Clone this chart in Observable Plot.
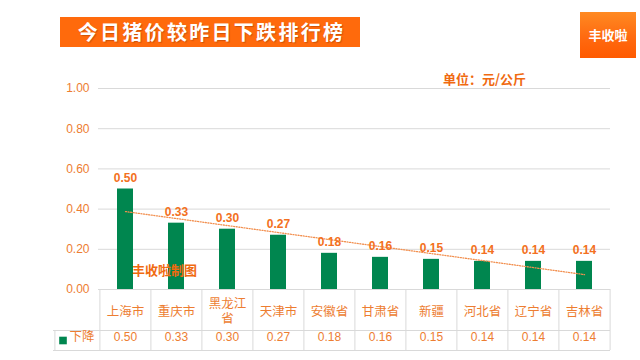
<!DOCTYPE html>
<html><head><meta charset="utf-8">
<script src="https://cdn.jsdelivr.net/npm/d3@7"></script>
<script src="https://cdn.jsdelivr.net/npm/@observablehq/plot@0.6"></script>
<style>
body{margin:0;background:#fff}
#wrap{position:relative;width:640px;height:360px;overflow:hidden;font-family:"Liberation Sans","Noto Sans CJK SC",sans-serif}
#chart{position:absolute;left:0;top:0}
.title{position:absolute;left:60px;top:17px;width:300px;height:30px;background:#FF6A0C;color:#fff;font:bold 20px "Noto Sans CJK SC";line-height:30px;text-align:center;letter-spacing:2.3px;text-indent:3px;text-shadow:1px 1px 1px rgba(120,40,0,0.35);white-space:nowrap}
.brand{position:absolute;left:580px;top:12px;width:56px;height:46px;background:linear-gradient(180deg,#FF8A22 0%,#FF6A10 55%,#FF5A00 100%);color:#fff;font:bold 13px "Noto Sans CJK SC";line-height:46px;text-align:center;white-space:nowrap}
.unit{position:absolute;left:443px;top:70px;color:#F06A10;font:bold 13px "Noto Sans CJK SC";line-height:18px;white-space:nowrap}
.mark{position:absolute;left:132px;top:261px;color:#F06A10;font:bold 13px "Noto Sans CJK SC";line-height:18px;white-space:nowrap}
</style></head>
<body>
<div id="wrap">
  <div id="chart"></div>
  <div class="title" id="title"></div>
  <div class="brand" id="brand"></div>
  <div class="unit" id="unit"></div>
  <div class="mark" id="mark"></div>
</div>
<script>
const titleText = "今日猪价较昨日下跌排行榜";
const brandText = "丰收啦";
const unitText = "单位：元/公斤";
const watermarkText = "丰收啦制图";
const seriesName = "下降";
const categories = ["上海市","重庆市","黑龙江省","天津市","安徽省","甘肃省","新疆","河北省","辽宁省","吉林省"];
const values = [0.50,0.33,0.30,0.27,0.18,0.16,0.15,0.14,0.14,0.14];
const yTicks = [0,0.2,0.4,0.6,0.8,1.0];

document.getElementById("title").textContent = titleText;
document.getElementById("brand").textContent = brandText;
document.getElementById("unit").textContent = unitText;
document.getElementById("mark").textContent = watermarkText;

const data = categories.map((c,i)=>({cat:c, val:values[i], idx:i}));
const mx = d3.mean(data, d=>d.idx), my = d3.mean(values);
const slope = d3.sum(data, d=>(d.idx-mx)*(d.val-my)) / d3.sum(data, d=>(d.idx-mx)**2);
const trend = data.map(d=>({cat:d.cat, t: my + slope*(d.idx-mx)}));

const W = 640, H = 360, ML = 98, MR = 30, MT = 88, MB = 71;
const step = (W-ML-MR)/categories.length;
const frameH = H-MT-MB;
const orange = "#ED7D31", labelOrange = "#F37021", green = "#00864F", gridC = "#d9d9d9";
const wrap = s => s.length > 3 ? s.slice(0,3) + "\n" + s.slice(3) : s;
const last = categories[categories.length-1];

const plot = Plot.plot({
  width: W, height: H, marginLeft: ML, marginRight: MR, marginTop: MT, marginBottom: MB,
  style: {fontFamily: '"Liberation Sans","Noto Sans CJK SC",sans-serif', fontSize: "12px", background: "transparent", overflow: "visible"},
  x: {domain: categories, paddingInner: 0.69, paddingOuter: 0.345, axis: null},
  y: {domain: [0,1], axis: null},
  marks: [
    Plot.ruleY(yTicks, {stroke: gridC}),
    Plot.axisY(yTicks, {tickSize: 0, tickPadding: 9, tickFormat: d=>d.toFixed(2), color: orange, fontSize: 12, label: null}),
    Plot.ruleX(categories, {dx: -step/2, insetTop: frameH, insetBottom: -61, stroke: gridC}),
    Plot.ruleX([last], {dx: step/2, insetTop: frameH, insetBottom: -61, stroke: gridC}),
    Plot.ruleX([categories[0]], {dx: -step/2-45, insetTop: frameH+41, insetBottom: -61, stroke: gridC}),
    Plot.ruleY([0], {dy: 41, insetLeft: -45, stroke: gridC}),
    Plot.ruleY([0], {dy: 61, insetLeft: -45, stroke: gridC}),
    Plot.barY(data, {x: "cat", y: "val", fill: green}),
    Plot.line(trend, {x: "cat", y: "t", stroke: "#F29050", strokeWidth: 1.3, strokeDasharray: "1 1.6"}),
    Plot.text(data, {x: "cat", y: "val", text: d=>d.val.toFixed(2), dy: -11, fill: labelOrange, fontWeight: "bold", fontSize: 12}),
    Plot.text(data, {x: "cat", text: d=>wrap(d.cat), frameAnchor: "bottom", lineAnchor: "middle", dy: 21, lineHeight: 1.25, fill: orange, fontSize: 12.5}),
    Plot.text(data, {x: "cat", text: d=>d.val.toFixed(2), frameAnchor: "bottom", dy: 51, fill: orange, fontSize: 12}),
    Plot.dot([seriesName], {frameAnchor: "bottom-left", dx: -35.5, dy: 51, symbol: "square", r: 4.3, fill: green}),
    Plot.text([seriesName], {frameAnchor: "bottom-left", text: d=>d, textAnchor: "start", dx: -29, dy: 51, fill: orange, fontSize: 12.5})
  ]
});
document.getElementById("chart").appendChild(plot);
</script>
</body></html>
